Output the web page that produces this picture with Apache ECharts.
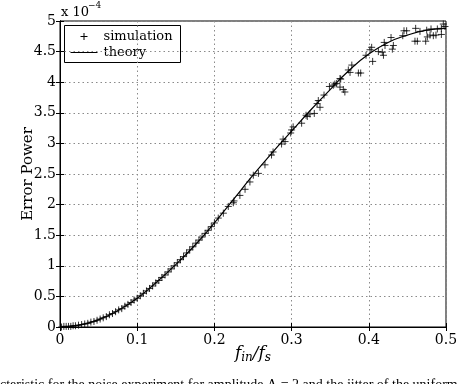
<!DOCTYPE html>
<html><head><meta charset="utf-8">
<script src="https://cdn.jsdelivr.net/npm/echarts@6/dist/echarts.min.js"></script>
<style>html,body{margin:0;padding:0;background:#fff}#c{width:474px;height:384px}</style>
</head><body><div id="c"></div>
<script>
// f_in/f_s axis ticks and error-power ticks (x 10^-4)
const xTicks = [0, 0.1, 0.2, 0.3, 0.4, 0.5];
const yTicks = [0, 0.5, 1, 1.5, 2, 2.5, 3, 3.5, 4, 4.5, 5];
const legendNames = ['simulation', 'theory'];

// theory curve (units of 1e-4)
const theoryF = [0, 0.025, 0.05, 0.075, 0.1, 0.125, 0.15, 0.175, 0.2, 0.225, 0.25, 0.275, 0.3, 0.325, 0.35, 0.375, 0.4, 0.425, 0.45, 0.475, 0.5];
const theoryP = [0, 0.03, 0.12, 0.27, 0.47, 0.73, 1.02, 1.34, 1.70, 2.09, 2.48, 2.85, 3.20, 3.55, 3.88, 4.20, 4.46, 4.65, 4.77, 4.85, 4.88];

// simulation points (units of 1e-4)
const simF = [0.002,0.005,0.008,0.011,0.014,0.017,0.020,0.024,0.028,0.032,0.036,0.040,0.044,0.048,0.052,0.056,0.060,0.064,0.068,0.072,0.076,0.080,0.084,0.088,0.092,0.096,0.100,0.104,0.108,0.112,0.116,0.120,0.124,0.128,0.132,0.136,0.140,0.144,0.148,0.152,0.156,0.160,0.164,0.168,0.172,0.176,0.180,0.184,0.188,0.192,0.196,0.200,
0.205,0.2116,0.218,0.2245,0.2254,0.233,0.2397,0.246,0.2504,0.257,0.2655,0.274,0.276,0.287,0.289,0.2915,0.2988,0.300,0.302,0.313,0.3187,0.3203,0.3238,0.3294,0.333,0.3346,0.3368,0.342,0.349,0.354,0.356,0.3584,0.3627,0.3627,0.3636,0.367,0.369,0.3735,0.3757,0.378,0.3865,0.3895,
0.3964,0.4016,0.4037,0.405,0.4124,0.4175,0.419,0.420,0.421,0.4288,0.4305,0.4318,0.444,0.4456,0.449,0.4598,0.4607,0.4629,0.4663,0.4737,0.475,0.4758,0.4793,0.4806,0.4836,0.487,0.4888,0.494,0.494,0.4965,0.4987];
const simP = [0.00,0.01,0.01,0.01,0.01,0.02,0.02,0.03,0.04,0.05,0.06,0.08,0.09,0.11,0.13,0.15,0.17,0.20,0.22,0.25,0.28,0.30,0.34,0.37,0.40,0.44,0.47,0.51,0.55,0.59,0.63,0.67,0.72,0.76,0.81,0.85,0.90,0.95,1.00,1.05,1.10,1.15,1.21,1.26,1.31,1.37,1.42,1.47,1.53,1.58,1.64,1.70,
1.78,1.86,1.97,2.03,2.06,2.15,2.25,2.37,2.48,2.51,2.65,2.81,2.86,2.99,3.07,3.03,3.17,3.22,3.27,3.33,3.46,3.44,3.48,3.49,3.65,3.70,3.59,3.79,3.93,3.95,3.97,3.98,4.06,3.92,4.05,3.88,3.84,4.20,4.16,4.28,4.15,4.15,
4.44,4.53,4.57,4.34,4.50,4.49,4.44,4.65,4.60,4.73,4.54,4.60,4.76,4.84,4.84,4.67,4.88,4.67,4.83,4.67,4.85,4.74,4.77,4.87,4.76,4.77,4.87,4.78,4.88,4.95,4.91];

const theory = theoryF.map((f, i) => [f, theoryP[i]]);
const sim = simF.map((f, i) => [f, simP[i]]);

const FONT = 'DejaVu Serif';
const plus = 'path://M0,5L10,5M5,0L5,10';
const chart = echarts.init(document.getElementById('c'), null, {renderer: 'canvas'});
const gridLine = {show: true, lineStyle: {color: '#8a8a8a', type: [1.5, 3], width: 1}};
const tickIn = {show: true, inside: true, length: 4, lineStyle: {color: '#000'}};
chart.setOption({
  animation: false,
  backgroundColor: '#fff',
  grid: {left: 60, right: 28, top: 21, bottom: 57, show: true, borderColor: '#000', borderWidth: 1},
  xAxis: [{
    type: 'value', min: 0, max: 0.5, interval: 0.1,
    axisLine: {show: true, lineStyle: {color: '#000'}},
    axisTick: tickIn, splitLine: gridLine,
    axisLabel: {fontFamily: FONT, fontSize: 14, color: '#000', margin: 6, formatter: v => (v === 0 ? '0' : String(+v.toFixed(1)))},
    name: '{i|f}{s|in}{i|/f}{s|s}', nameLocation: 'middle', nameGap: 17, nameMoveOverlap: false,
    nameTextStyle: {verticalAlign: 'top', rich: {i: {fontFamily: FONT, fontStyle: 'italic', fontSize: 17, color: '#000'}, s: {fontFamily: FONT, fontStyle: 'italic', fontSize: 12, color: '#000', verticalAlign: 'bottom', padding: [8, 0, 0, 0]}}}
  }, {
    type: 'value', position: 'top', min: 0, max: 0.5, interval: 0.1,
    axisLine: {show: true, lineStyle: {color: '#000'}}, axisTick: tickIn, axisLabel: {show: false}, splitLine: {show: false}
  }],
  yAxis: [{
    type: 'value', min: 0, max: 5, interval: 0.5,
    axisLine: {show: true, lineStyle: {color: '#000'}},
    axisTick: tickIn, splitLine: gridLine,
    axisLabel: {fontFamily: FONT, fontSize: 14, color: '#000', margin: 4},
    name: 'Error Power', nameLocation: 'middle', nameGap: 32, nameMoveOverlap: false,
    nameTextStyle: {fontFamily: FONT, fontSize: 15, color: '#000', verticalAlign: 'middle'}
  }, {
    type: 'value', position: 'right', min: 0, max: 5, interval: 0.5,
    axisLine: {show: true, lineStyle: {color: '#000'}}, axisTick: tickIn, axisLabel: {show: false}, splitLine: {show: false}
  }],
  graphic: [
    {type: 'text', left: 61, top: 6, style: {text: 'x 10', fontFamily: FONT, fontSize: 13, fill: '#000'}},
    {type: 'text', left: 88, top: 1, style: {text: '−4', fontFamily: FONT, fontSize: 9, fill: '#000'}},
    {type: 'group', left: 64, top: 25, z: 100, children: [
      {type: 'rect', shape: {x: 0, y: 0, width: 116, height: 37}, style: {fill: '#fff', stroke: '#000', lineWidth: 1}},
      {type: 'polyline', shape: {points: [[16, 11], [23, 11]]}, style: {stroke: '#000', lineWidth: 1}},
      {type: 'polyline', shape: {points: [[19.5, 7.5], [19.5, 14.5]]}, style: {stroke: '#000', lineWidth: 1}},
      {type: 'text', x: 39, y: 11, style: {text: legendNames[0], fontFamily: FONT, fontSize: 13, fill: '#000', verticalAlign: 'middle'}},
      {type: 'polyline', shape: {points: [[6, 27], [33, 27]]}, style: {stroke: '#000', lineWidth: 1}},
      {type: 'text', x: 39, y: 27, style: {text: legendNames[1], fontFamily: FONT, fontSize: 13, fill: '#000', verticalAlign: 'middle'}}
    ]},
    {type: 'text', left: 0, top: 378, style: {text: 'cteristic for the noise experiment for amplitude A = 2 and the jitter of the uniform', fontFamily: 'Liberation Serif', fontSize: 14, fill: '#000'}}
  ],
  series: [
    {name: 'simulation', type: 'scatter', data: sim, symbol: plus, symbolSize: 7,
     itemStyle: {color: 'none', borderColor: '#000', borderWidth: 1}, z: 3},
    {name: 'theory', type: 'line', data: theory, smooth: true, symbol: 'none', showSymbol: false,
     lineStyle: {color: '#000', width: 1.2}, z: 2}
  ]
});
</script></body></html>
